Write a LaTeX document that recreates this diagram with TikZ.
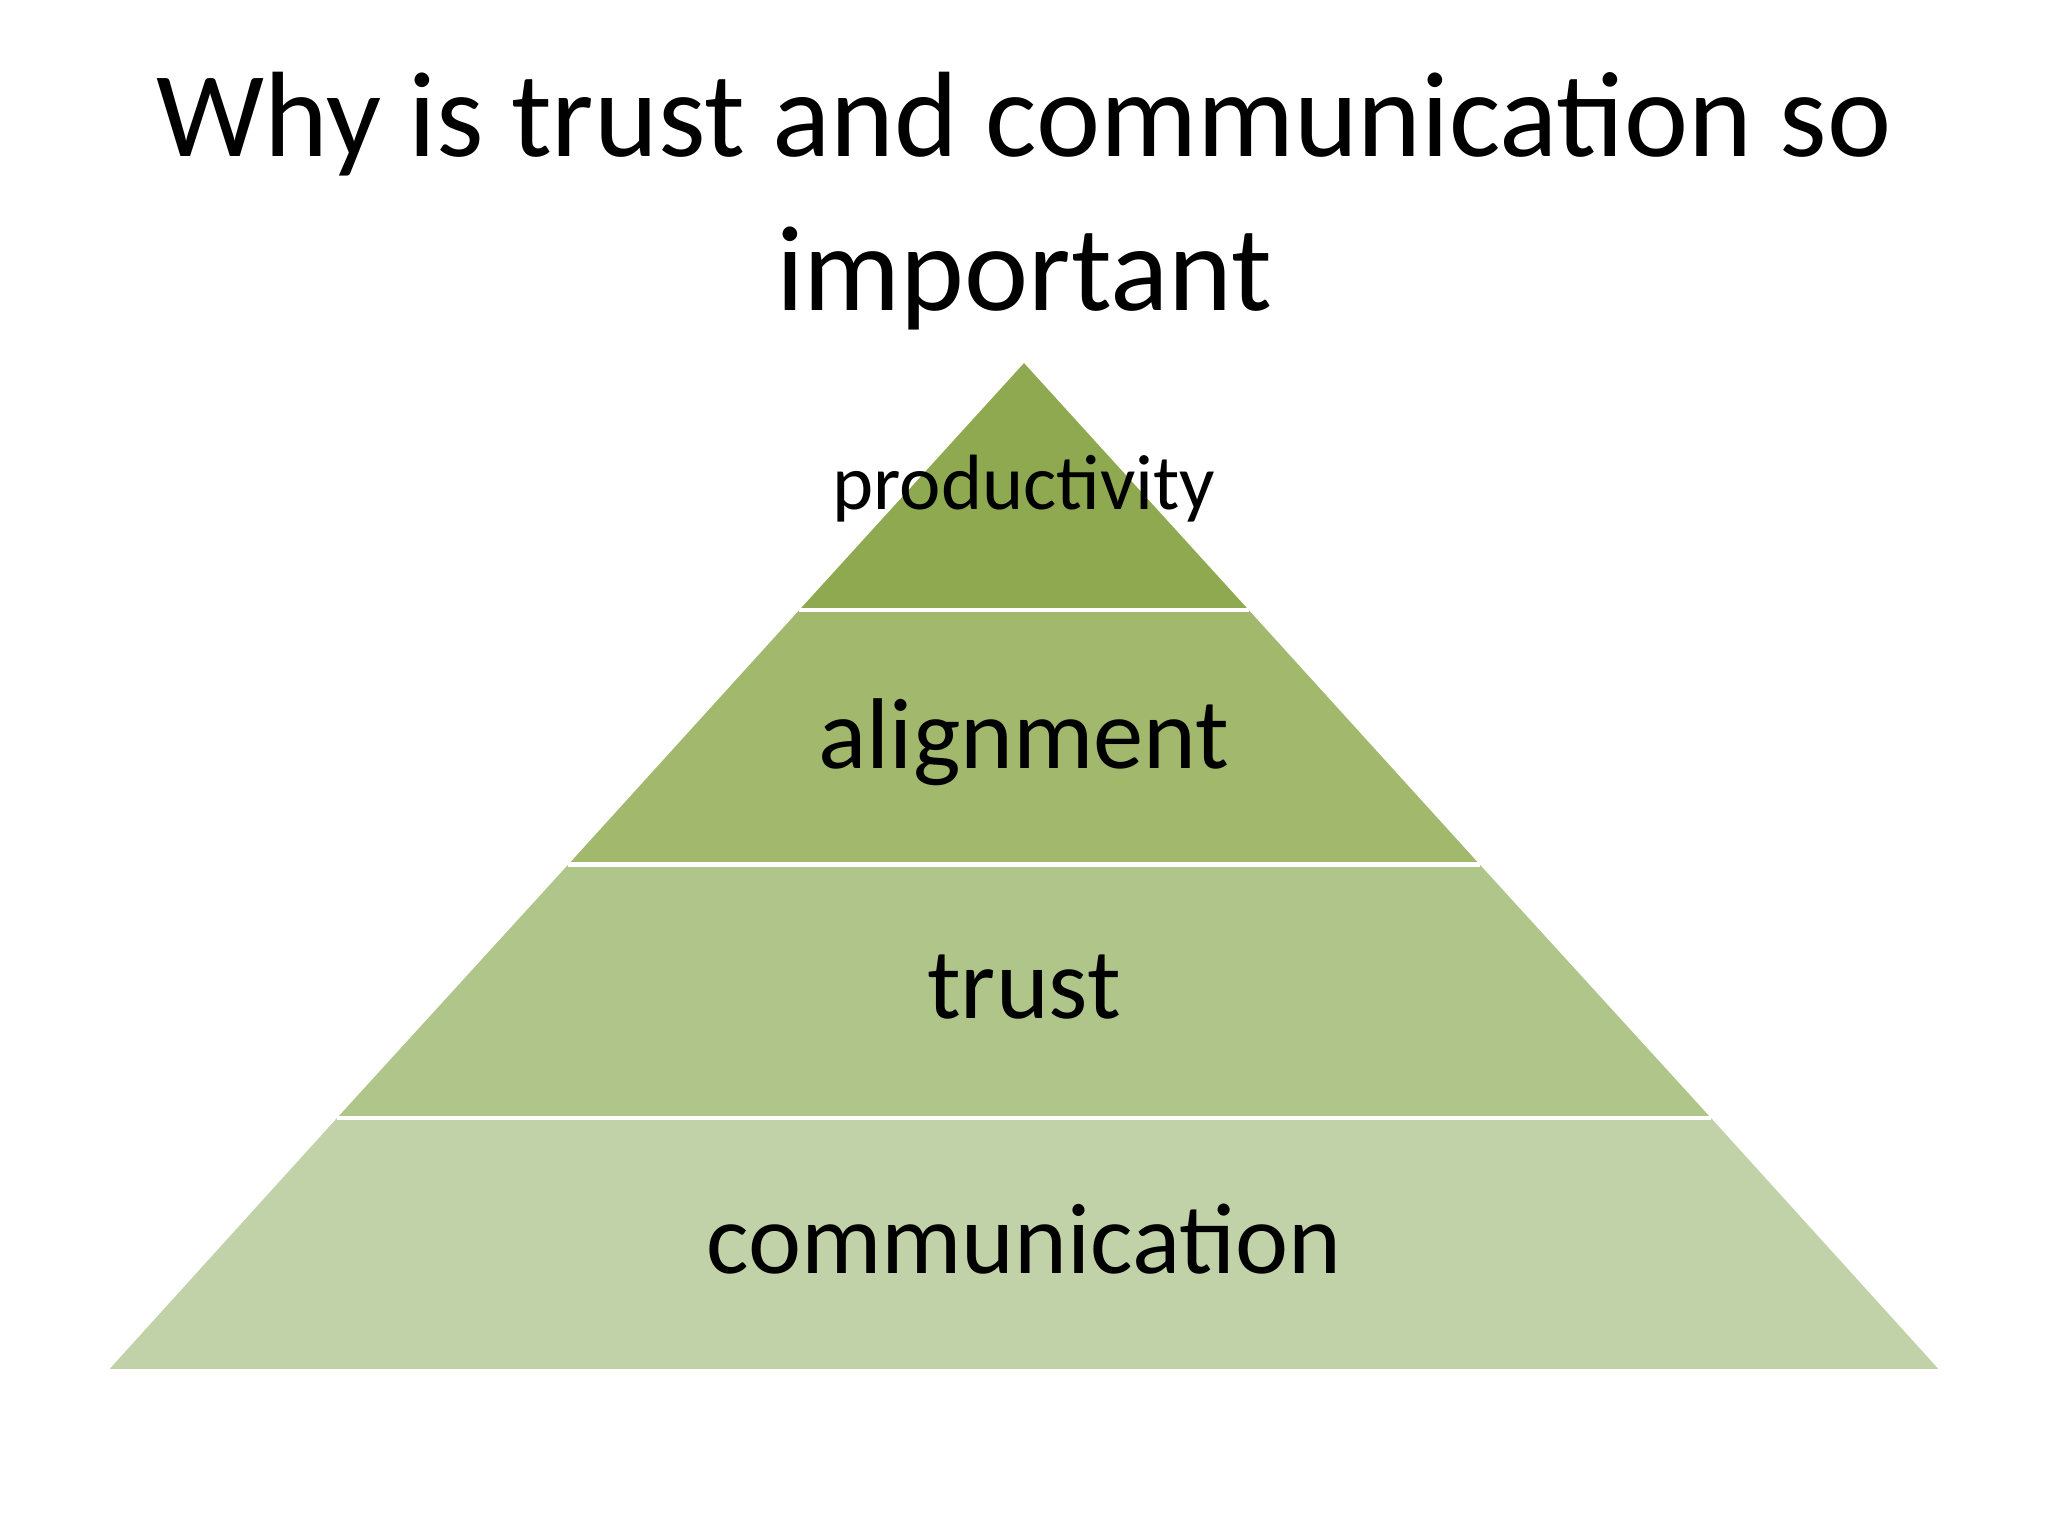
\documentclass[tikz,border=0pt]{standalone}
\usepackage{fontspec}
\setmainfont{Carlito}
\definecolor{c1}{HTML}{8EA94F}
\definecolor{c2}{HTML}{A2B96D}
\definecolor{c3}{HTML}{AFC58A}
\definecolor{c4}{HTML}{C2D2A8}
\begin{document}
\begin{tikzpicture}[x=1pt,y=-1pt,sep/.style={draw=white,line width=3.5pt},lbl/.style={anchor=base,inner sep=0pt}]
\useasboundingbox[fill=white] (0,0) rectangle (1568,1176);
\coordinate (apex) at (784,278);
\fill[c4] (258,856) -- (1310,856) -- (1484,1048) -- (84,1048) -- cycle;
\fill[c3] (435,662) -- (1133,662) -- (1310,856) -- (258,856) -- cycle;
\fill[c2] (612,467) -- (956,467) -- (1133,662) -- (435,662) -- cycle;
\fill[c1] (apex) -- (956,467) -- (612,467) -- cycle;
\draw[sep] (612,467) -- (956,467);
\draw[sep] (435,662) -- (1133,662);
\draw[sep] (258,856) -- (1310,856);
\node[lbl,font=\fontsize{60}{60}\selectfont] (p) at (784,390) {productivity};
\node[lbl,font=\fontsize{77}{77}\selectfont] (a) at (784,588) {alignment};
\node[lbl,font=\fontsize{77}{77}\selectfont] (t) at (784,780) {trust};
\node[lbl,font=\fontsize{77}{77}\selectfont] (c) at (784,975) {communication};
\node[lbl,font=\fontsize{93}{93}\selectfont] (t1) at (784,120) {Why is trust and communication so};
\node[lbl,font=\fontsize{93}{93}\selectfont] (t2) at (784,238) {important};
\end{tikzpicture}
\end{document}
